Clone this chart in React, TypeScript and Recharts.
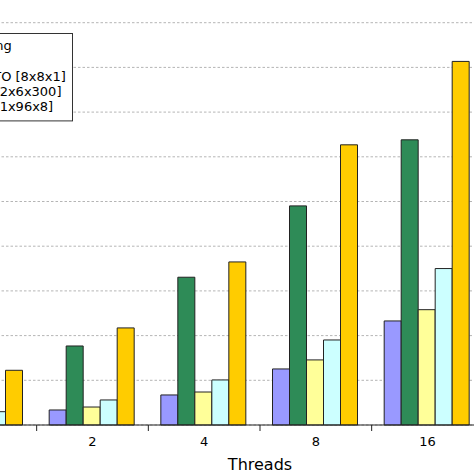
import React from 'react';
import { BarChart, Bar, XAxis, YAxis, CartesianGrid, Legend } from 'recharts';

const threads = ['1', '2', '4', '8', '16', '32'];
const seriesNames = ['Tuning', 'Seq', 'PLUTO [8x8x1]', 'Var [2x6x300]', 'Var [1x96x8]'];
const seriesColors = ['#9999ff', '#2e8b57', '#ffff99', '#ccffff', '#ffcc00'];
const blueValues = [0.85, 1.68, 3.36, 6.27, 11.64, 20.5];
const greenValues = [4.6, 8.84, 16.53, 24.51, 31.9, 36.0];
const yellowValues = [1.05, 2.01, 3.69, 7.28, 12.9, 22.0];
const cyanValues = [1.49, 2.8, 5.04, 9.51, 17.5, 30.0];
const goldValues = [6.12, 10.86, 18.24, 31.34, 40.67, 46.0];
const yTicks = [0, 5, 10, 15, 20, 25, 30, 35, 40, 45, 50];

const seriesValues = [blueValues, greenValues, yellowValues, cyanValues, goldValues];
const keys = ['s0', 's1', 's2', 's3', 's4'];

const data = threads.map((t, i) => {
  const row: any = { threads: t };
  keys.forEach((k, j) => {
    row[k] = seriesValues[j][i];
  });
  return row;
});

const CHART_W = 740;
const CHART_H = 497;
const Y_W = 60;
const M_RIGHT = 10;
const X_H = 50;
const BAND = (CHART_W - Y_W - M_RIGHT) / threads.length;

const ThreadTick = (props: any) => {
  const { x, y, payload } = props;
  const bx = x - BAND / 2;
  return (
    <g>
      <line x1={bx} x2={bx} y1={y} y2={y + 6} stroke="#222" strokeWidth={1} />
      <text x={x} y={y + 20.5} textAnchor="middle" fontSize={13} fill="#000">
        {payload.value}
      </text>
    </g>
  );
};

const LegendBox = (props: any) => {
  const payload = [...(props.payload || [])].sort(
    (a: any, b: any) => keys.indexOf(String(a.dataKey)) - keys.indexOf(String(b.dataKey))
  );
  const baselines = [16.6, 32.8, 48.4, 63.2, 77.6];
  return (
    <svg width={143.5} height={89} style={{ display: 'block', overflow: 'visible' }}>
      <rect x={0.5} y={0.5} width={142} height={87.4} fill="#fff" stroke="#333" strokeWidth={1} />
      {payload.map((p: any, i: number) => (
        <g key={i}>
          <rect x={12} y={baselines[i] - 9} width={20} height={9} fill={p.color} stroke="#222" strokeWidth={1} />
          <text x={39.25} y={baselines[i]} fontSize={13} fill="#000">
            {p.value}
          </text>
        </g>
      ))}
    </svg>
  );
};

export default function App() {
  return (
    <div
      style={{
        position: 'absolute',
        left: 0,
        top: 0,
        width: 474,
        height: 474,
        overflow: 'hidden',
        background: '#fff',
        fontFamily: '"DejaVu Sans", sans-serif',
      }}
    >
      <div style={{ position: 'absolute', left: -134.7, top: -21.67 }}>
        <BarChart
          width={CHART_W}
          height={CHART_H}
          data={data}
          margin={{ top: 0, right: M_RIGHT, bottom: 0, left: 0 }}
          barCategoryGap="11.2%"
          barGap={0}
        >
          <CartesianGrid vertical={false} stroke="#b5b5b5" strokeDasharray="2.5 2" />
          <XAxis
            dataKey="threads"
            height={X_H}
            interval={0}
            tickLine={false}
            tickSize={0}
            tickMargin={0}
            axisLine={{ stroke: '#222', strokeWidth: 1 }}
            tick={<ThreadTick />}
            label={{ value: 'Threads', position: 'insideBottom', offset: 5, fontSize: 16, fill: '#000' }}
          />
          <YAxis
            width={Y_W}
            domain={[0, 50]}
            ticks={yTicks}
            axisLine={{ stroke: '#222' }}
            tick={{ fontSize: 13, fill: '#000' }}
          />
          <Legend
            layout="vertical"
            align="center"
            verticalAlign="middle"
            itemSorter="dataKey"
            content={<LegendBox />}
            wrapperStyle={{ left: 64.7, top: 54.47, width: 143.5, height: 89 }}
          />
          {keys.map((k, j) => (
            <Bar
              key={k}
              dataKey={k}
              name={seriesNames[j]}
              fill={seriesColors[j]}
              stroke="#222"
              strokeWidth={1}
              isAnimationActive={false}
            />
          ))}
        </BarChart>
      </div>
    </div>
  );
}
